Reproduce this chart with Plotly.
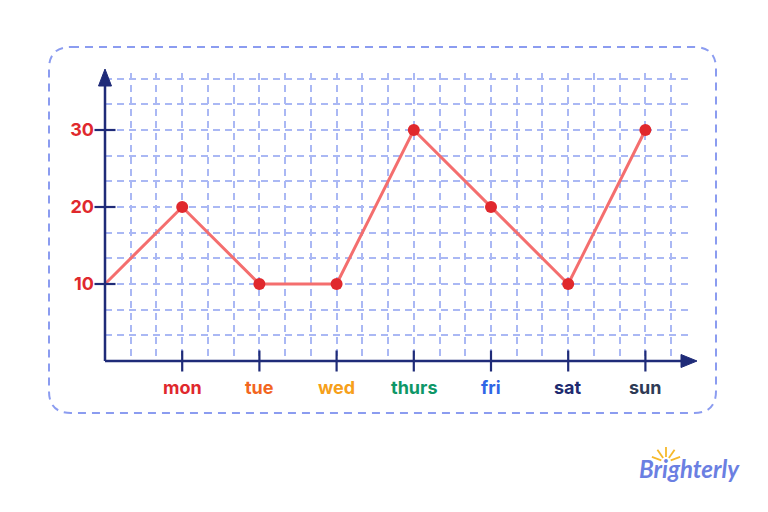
import math
import plotly.graph_objects as go

# ---- data ----
days = ["mon", "tue", "wed", "thurs", "fri", "sat", "sun"]
day_colors = ["#e0282d", "#f2661f", "#f6a01a", "#0e9767", "#2f66e6", "#1e2a70", "#2e3a55"]
x_pos = [0, 1, 2, 3, 4, 5, 6, 7]
values = [10, 20, 10, 10, 30, 20, 10, 30]
y_ticks = [10, 20, 30]

W, H = 768, 512
OFF = 8  # page body margin
L, R, T, B = 105, 688, 73, 361  # page pixel positions of the plot area
XMAX = (R - L) / 77.2
YMAX = (B - T) / 7.7

NAVY = "#1f2b78"
GRID = "#aab8f4"


def px(xp):
    return (xp - L) / (R - L)


def py(yp):
    return (B - yp) / (B - T)


fig = go.Figure()

# line + points
fig.add_trace(go.Scatter(
    x=x_pos, y=values, mode="lines",
    line=dict(color="#f46e6e", width=3), cliponaxis=False, hoverinfo="skip"))
fig.add_trace(go.Scatter(
    x=x_pos[1:], y=values[1:], mode="markers",
    marker=dict(color="#e0282d", size=12), cliponaxis=False, hoverinfo="skip"))

shapes = []
shapes.append(dict(type="line", xref="paper", yref="paper", x0=0, y0=0, x1=px(684), y1=0,
                   line=dict(color=NAVY, width=2.5), layer="above"))
shapes.append(dict(type="line", xref="paper", yref="paper", x0=0, y0=0, x1=0, y1=py(84),
                   line=dict(color=NAVY, width=2.5), layer="above"))
shapes.append(dict(type="path", xref="paper", yref="paper",
                   path=f"M {px(697)} {py(361)} L {px(681)} {py(354.5)} L {px(681)} {py(367.5)} Z",
                   fillcolor=NAVY, line=dict(color=NAVY, width=1), layer="above"))
shapes.append(dict(type="path", xref="paper", yref="paper",
                   path=f"M {px(105)} {py(69)} L {px(98.5)} {py(86)} L {px(111.5)} {py(86)} Z",
                   fillcolor=NAVY, line=dict(color=NAVY, width=1), layer="above"))

# rounded dashed border
x0b, x1b, y0b, y1b, r = 49, 716, 47, 413, 22


def P(a, b):
    return f"{px(a)},{py(b)}"


path = (f"M {P(x0b + r, y0b)} L {P(x1b - r, y0b)} Q {P(x1b, y0b)} {P(x1b, y0b + r)} "
        f"L {P(x1b, y1b - r)} Q {P(x1b, y1b)} {P(x1b - r, y1b)} "
        f"L {P(x0b + r, y1b)} Q {P(x0b, y1b)} {P(x0b, y1b - r)} "
        f"L {P(x0b, y0b + r)} Q {P(x0b, y0b)} {P(x0b + r, y0b)}")
shapes.append(dict(type="path", xref="paper", yref="paper", path=path,
                   line=dict(color="#8b9cf0", width=2, dash="8px,6px"), layer="below"))

# sun rays of the logo
cx, cy = 666, 462
for ang in [20, 55, 90, 125, 160]:
    a = math.radians(ang)
    r0, r1 = 5, 15
    shapes.append(dict(type="line", xref="paper", yref="paper",
                       x0=px(cx + r0 * math.cos(a)), y0=py(cy - r0 * math.sin(a)),
                       x1=px(cx + r1 * math.cos(a)), y1=py(cy - r1 * math.sin(a)),
                       line=dict(color="#f6b92b", width=1.8)))

# axis ticks (crossing the axes)
fig.add_trace(go.Scatter(
    x=x_pos[1:], y=[0] * 7, mode="markers",
    marker=dict(symbol="line-ns-open", size=15, color=NAVY, line=dict(color=NAVY, width=2.2)),
    cliponaxis=False, hoverinfo="skip"))
fig.add_trace(go.Scatter(
    x=[0] * 3, y=y_ticks, mode="markers",
    marker=dict(symbol="line-ew-open", size=15, color=NAVY, line=dict(color=NAVY, width=2.2)),
    cliponaxis=False, hoverinfo="skip"))

annotations = []
for d, c, xv in zip(days, day_colors, x_pos[1:]):
    annotations.append(dict(x=xv, y=py(387), xref="x", yref="paper", text=d, showarrow=False,
                            font=dict(family="Inter", size=18, color=c, weight="bold"),
                            xanchor="center", yanchor="middle"))

annotations.append(dict(x=px(689), y=py(468), xref="paper", yref="paper", text="<i>Brighterly</i>",
                        showarrow=False, font=dict(family="Lato", size=24, color="#6b7fe2",
                                                   weight="bold"),
                        xanchor="center", yanchor="middle"))

fig.update_layout(
    width=W, height=H,
    margin=dict(l=L - OFF, r=W - (R - OFF), t=T - OFF, b=H - (B - OFF)),
    paper_bgcolor="white", plot_bgcolor="white",
    showlegend=False,
    shapes=shapes, annotations=annotations,
    xaxis=dict(range=[0, XMAX], tickvals=list(range(0, 8)), showticklabels=False,
               showgrid=True, gridcolor=GRID, gridwidth=1.5, griddash="7px,5px",
               minor=dict(dtick=1 / 3, tick0=0, showgrid=True, gridcolor=GRID, gridwidth=1.5,
                          griddash="7px,5px"),
               zeroline=False, showline=False, fixedrange=True),
    yaxis=dict(range=[0, YMAX], tickvals=y_ticks, ticktext=[str(v) for v in y_ticks],
               tickfont=dict(family="Inter", size=18, color="#e0282d", weight="bold"),
               ticklabelstandoff=10,
               showgrid=True, gridcolor=GRID, gridwidth=1.5, griddash="7px,5px",
               minor=dict(dtick=10 / 3, tick0=0, showgrid=True, gridcolor=GRID, gridwidth=1.5,
                          griddash="7px,5px"),
               zeroline=False, showline=False, fixedrange=True),
)

fig.write_html("out.html")
